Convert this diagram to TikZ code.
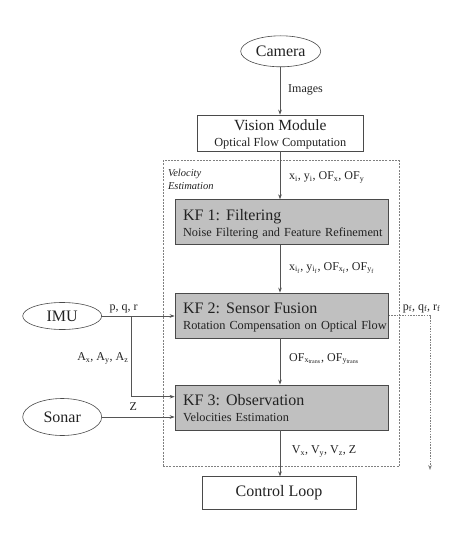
\documentclass[tikz,border=0pt]{standalone}
\usepackage{fontspec}
\setmainfont{Liberation Serif}
\usetikzlibrary{shapes.geometric,arrows.meta}
\definecolor{linec}{HTML}{555555}
\definecolor{boxc}{HTML}{4A4A4A}
\definecolor{kffill}{HTML}{C0C0C0}
\definecolor{txt}{HTML}{222222}
\definecolor{dashc}{HTML}{808080}
\newcommand{\sub}[1]{\textsubscript{#1}}
\begin{document}
\begin{tikzpicture}[x=1pt,y=-1pt,
  every node/.style={text=txt},
  oval/.style={ellipse,draw=boxc,line width=0.6pt,inner sep=0pt,font=\fontsize{16}{18}\selectfont},
  plainbox/.style={rectangle,draw=boxc,line width=0.6pt,inner sep=0pt,fill=white},
  kfbox/.style={rectangle,draw=boxc,line width=0.8pt,fill=kffill,minimum width=213.3pt,minimum height=45pt,
     text width=197.3pt,inner xsep=8pt,inner ysep=0pt,align=left,font=\fontsize{12.3}{16}\selectfont},
  container/.style={rectangle,draw=dashc,line width=0.5pt,dash pattern=on 2pt off 1.2pt,inner sep=0pt},
  conn/.style={draw=linec,line width=0.7pt,-{Stealth[length=5pt,width=3.6pt]}},
  dconn/.style={draw=dashc,line width=0.6pt,dash pattern=on 1.5pt off 1.2pt,-{Stealth[length=5pt,width=3.6pt]}},
  lab/.style={inner sep=0pt,font=\fontsize{12}{14}\selectfont},
]
\useasboundingbox (0,0) rectangle (474,540);

% nodes
\node[oval,minimum width=80pt,minimum height=31pt] (cam) at (280.7,51.3) {Camera};
\node[plainbox,minimum width=166pt,minimum height=36pt,align=center,font=\fontsize{12.3}{16}\selectfont] (vis) at (280.3,133)
  {{\fontsize{15.5}{16}\selectfont\rule{0pt}{14.9pt}Vision Module}\\Optical Flow Computation\rule[-3.5pt]{0pt}{3.5pt}};
\node[container,minimum width=236pt,minimum height=306pt] (ve) at (281,313.7) {};
\node[inner sep=0pt,anchor=base west,align=left,font=\fontsize{10.5}{13}\selectfont\itshape] (velab) at (167.8,189.5) {Velocity\\Estimation};

\node[kfbox] (kf1) at (281.7,222.2)
  {{\fontsize{16}{16}\selectfont\rule{0pt}{16pt}KF 1: Filtering}\\\mbox{Noise Filtering and Feature Refinement}\rule[-3.5pt]{0pt}{3.5pt}};
\node[kfbox] (kf2) at (281.7,315.5)
  {{\fontsize{16}{16}\selectfont\rule{0pt}{16pt}KF 2: Sensor Fusion}\\\mbox{Rotation Compensation on Optical Flow}\rule[-3.5pt]{0pt}{3.5pt}};
\node[kfbox] (kf3) at (281.7,407.5)
  {{\fontsize{16}{16}\selectfont\rule{0pt}{16pt}KF 3: Observation}\\\mbox{Velocities Estimation}\rule[-3.5pt]{0pt}{3.5pt}};

\node[plainbox,minimum width=154pt,minimum height=32.6pt,font=\fontsize{16}{18}\selectfont] (ctl) at (279,493) {Control Loop};
\node[oval,minimum width=79pt,minimum height=27pt] (imu) at (62.2,316) {IMU};
\node[oval,minimum width=79pt,minimum height=37pt] (sonar) at (62.2,417) {Sonar};

\coordinate (ax) at (280,0);
\coordinate (br) at (131.7,316);
\coordinate (rt) at (430,470);

% connectors
\draw[conn] (cam.south -| ax) -- (vis.north -| ax);
\draw[conn] (vis.south -| ax) -- (kf1.north -| ax);
\draw[conn] (kf1.south -| ax) -- (kf2.north -| ax);
\draw[conn] (kf2.south -| ax) -- (kf3.north -| ax);
\draw[conn] (kf3.south -| ax) -- (ctl.north -| ax);
\draw[conn] (imu.east) -- (imu.east -| kf2.west);
\draw[conn] (br) |- ([yshift=10.8pt]kf3.west);
\draw[conn] (sonar.east) -- (sonar.east -| kf3.west);
\draw[dconn] (kf2.east) -| (rt);

% labels
\node[lab,anchor=base west] (l0) at (288,93) {Images};
\node[lab,anchor=base west] (l1) at (289,179.3) {x\sub{i}, y\sub{i}, OF\sub{x}, OF\sub{y}};
\node[lab,anchor=base west] (l2) at (289,270) {x\sub{i\sub{f}}, y\sub{i\sub{f}}, OF\sub{x\sub{f}}, OF\sub{y\sub{f}}};
\node[lab,anchor=base west] (l3) at (109.3,310) {p, q, r};
\node[lab,anchor=base east] (l4) at (128.5,360.7) {A\sub{x}, A\sub{y}, A\sub{z}};
\node[lab,anchor=base] (l5) at (133.3,410) {Z};
\node[lab,anchor=base west] (l6) at (402.7,310) {p\sub{f}, q\sub{f}, r\sub{f}};
\node[lab,anchor=base west] (l7) at (289,361) {OF\sub{x\sub{trans}}, OF\sub{y\sub{trans}}};
\node[lab,anchor=base west] (l8) at (291.7,453.3) {V\sub{x}, V\sub{y}, V\sub{z}, Z};
\end{tikzpicture}
\end{document}
